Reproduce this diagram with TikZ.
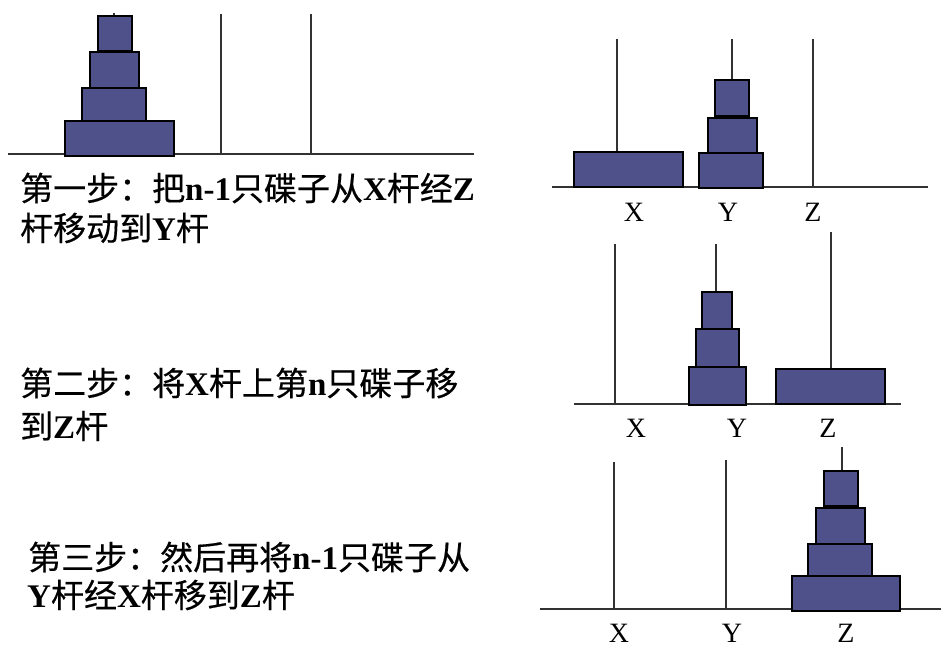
\documentclass[tikz,border=0pt]{standalone}
\usepackage{fontspec}
\setmainfont{Liberation Serif}
\newfontfamily\cjk[FakeBold=0.4]{Noto Sans CJK SC}
\newcommand\lat[1]{{\rmfamily\bfseries #1}}
\definecolor{diskblue}{RGB}{79,82,138}
\definecolor{pegcol}{RGB}{50,50,50}
\tikzset{
  disk/.style={fill=diskblue,draw=black,line width=1.4pt},
  peg/.style={draw=pegcol,line width=1.3pt},
  base/.style={draw=pegcol,line width=1.3pt},
  steptext/.style={anchor=west,inner sep=0pt,font=\cjk\fontsize{33}{38}\selectfont},
  lbl/.style={inner sep=0pt,font=\rmfamily\fontsize{28}{32}\selectfont}
}
\newcommand\mydisk[4]{\filldraw[disk] (#1,#2) rectangle (#3,#4);}
\begin{document}
\begin{tikzpicture}[x=1pt,y=-1pt]
\useasboundingbox (0,0) rectangle (951,655);
% ---------- diagram 1 (top left) ----------
\draw[base] (8,154) -- (474,154);
\draw[peg] (114,13) -- (114,17);
\draw[peg] (221,14) -- (221,154);
\draw[peg] (311,14) -- (311,154);
\mydisk{65}{121}{174}{156}
\mydisk{82}{88}{146}{121}
\mydisk{90}{52}{139}{88}
\mydisk{98}{16}{132}{51}
\node[steptext] (s1a) at (20,188) {第一步：把\lat{n-1}只碟子从\lat{X}杆经\lat{Z}};
\node[steptext] (s1b) at (20,228) {杆移动到\lat{Y}杆};
% ---------- diagram 2 (top right) ----------
\draw[base] (552,187) -- (928,187);
\draw[peg] (617,39) -- (617,152);
\draw[peg] (732,39) -- (732,80);
\draw[peg] (813,39) -- (813,187);
\mydisk{574}{152}{683}{187}
\mydisk{699}{153}{763}{188}
\mydisk{708}{118}{757}{153}
\mydisk{715}{80}{749}{116}
\node[lbl] (x2) at (634,212) {X};
\node[lbl] (y2) at (728,212) {Y};
\node[lbl] (z2) at (813,212) {Z};
% ---------- diagram 3 (middle right) ----------
\draw[base] (574,404) -- (901,404);
\draw[peg] (615,244) -- (615,404);
\draw[peg] (716,244) -- (716,292);
\draw[peg] (831,232) -- (831,369);
\mydisk{689}{367}{746}{405}
\mydisk{696}{329}{739}{367}
\mydisk{702}{292}{732}{329}
\mydisk{776}{369}{885}{404}
\node[lbl] (x3) at (636,428) {X};
\node[lbl] (y3) at (737,428) {Y};
\node[lbl] (z3) at (828,428) {Z};
\node[steptext] (s2a) at (20,383) {第二步：将\lat{X}杆上第\lat{n}只碟子移};
\node[steptext] (s2b) at (20,426) {到\lat{Z}杆};
% ---------- diagram 4 (bottom right) ----------
\draw[base] (540,609) -- (941,609);
\draw[peg] (614,462) -- (614,609);
\draw[peg] (726,460) -- (726,609);
\draw[peg] (842,447) -- (842,471);
\mydisk{792}{576}{900}{611}
\mydisk{808}{544}{872}{576}
\mydisk{816}{508}{865}{544}
\mydisk{824}{471}{858}{506}
\node[lbl] (x4) at (619,633) {X};
\node[lbl] (y4) at (732,633) {Y};
\node[lbl] (z4) at (846,633) {Z};
\node[steptext] (s3a) at (28,557) {第三步：然后再将\lat{n-1}只碟子从};
\node[steptext] (s3b) at (27,595) {\lat{Y}杆经\lat{X}杆移到\lat{Z}杆};
\end{tikzpicture}
\end{document}
